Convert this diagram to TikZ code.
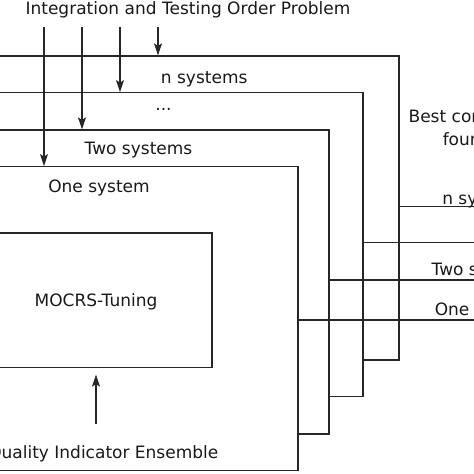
\documentclass[tikz,border=0pt]{standalone}
\usepackage{fontspec}
\setmainfont{DejaVu Sans}
\usetikzlibrary{arrows.meta}
\begin{document}
\begin{tikzpicture}[x=1pt,y=-1pt,
  every node/.style={font=\fontsize{17}{22}\selectfont, text=black!90, inner sep=0pt},
  layer/.style={draw=black!85, line width=1.2pt, fill=white, rectangle, inner sep=0pt},
  wire/.style={draw=black!85, line width=1.2pt},
  arr/.style={wire, -{Stealth[length=12pt,width=8pt,inset=2.5pt]}},
  lbl/.style={anchor=base}]
\useasboundingbox (0,0) rectangle (474,474);
\clip (0,0) rectangle (474,474);
\fill[white] (0,0) rectangle (474,474);

% title
\node[lbl] (title) at (188,14.3) {Integration and Testing Order Problem};

% stacked system boxes (left edges beyond the picture)
\node[layer, minimum width=416pt, minimum height=304pt] (boxN) at (191,208) {};
\node[layer, minimum width=382pt, minimum height=304pt] (boxD) at (172,244.7) {};
\node[layer, minimum width=349pt, minimum height=304pt] (boxT) at (154.5,282) {};
\node[layer, minimum width=318pt, minimum height=304pt] (boxO) at (139,318.7) {};

% labels of boxes
\node[lbl] (lN) at (204.2,83.3) {n systems};
\node[lbl] (lD) at (163.5,110.5) {...};
\node[lbl] (lT) at (138.5,154) {Two systems};
\node[lbl] (lO) at (99,192.7) {One system};

% inner box
\node[layer, minimum width=232pt, minimum height=134.7pt] (mocrs) at (96,300.35) {};
\node[lbl] (lM) at (96,306) {MOCRS-Tuning};
\node[lbl] (qie) at (103.3,458.3) {Quality Indicator Ensemble};

% input arrows
\coordinate (sO) at (44,27);
\coordinate (sT) at (82,27);
\coordinate (sD) at (120,27);
\coordinate (sN) at (158,27);
\draw[arr] (sN) -- (sN |- boxN.north);
\draw[arr] (sD) -- (sD |- boxD.north);
\draw[arr] (sT) -- (sT |- boxT.north);
\draw[arr] (sO) -- (sO |- boxO.north);

% quality indicator arrow
\coordinate (u0) at (96,424);
\draw[arr] (u0) -- ([yshift=-6.3pt]u0 |- mocrs.south);

% output lines
\coordinate (oN) at (480,206.7);
\coordinate (oD) at (480,242.3);
\coordinate (oT) at (480,280);
\coordinate (oO) at (480,320);
\draw[wire] (oN -| boxN.east) -- (oN);
\draw[wire] (oD -| boxD.east) -- (oD);
\draw[wire] (oT -| boxT.east) -- (oT);
\draw[wire] (oO -| boxO.east) -- (oO);

% right labels
\node[lbl] (best) at (482.5,122.7) {Best compromise};
\node[lbl] (found) at (481.5,145) {found for};
\node[lbl] (rN) at (485.5,204) {n systems};
\node[lbl] (rT) at (485.5,275) {Two systems};
\node[lbl] (rO) at (485.5,315) {One system};
\end{tikzpicture}
\end{document}
